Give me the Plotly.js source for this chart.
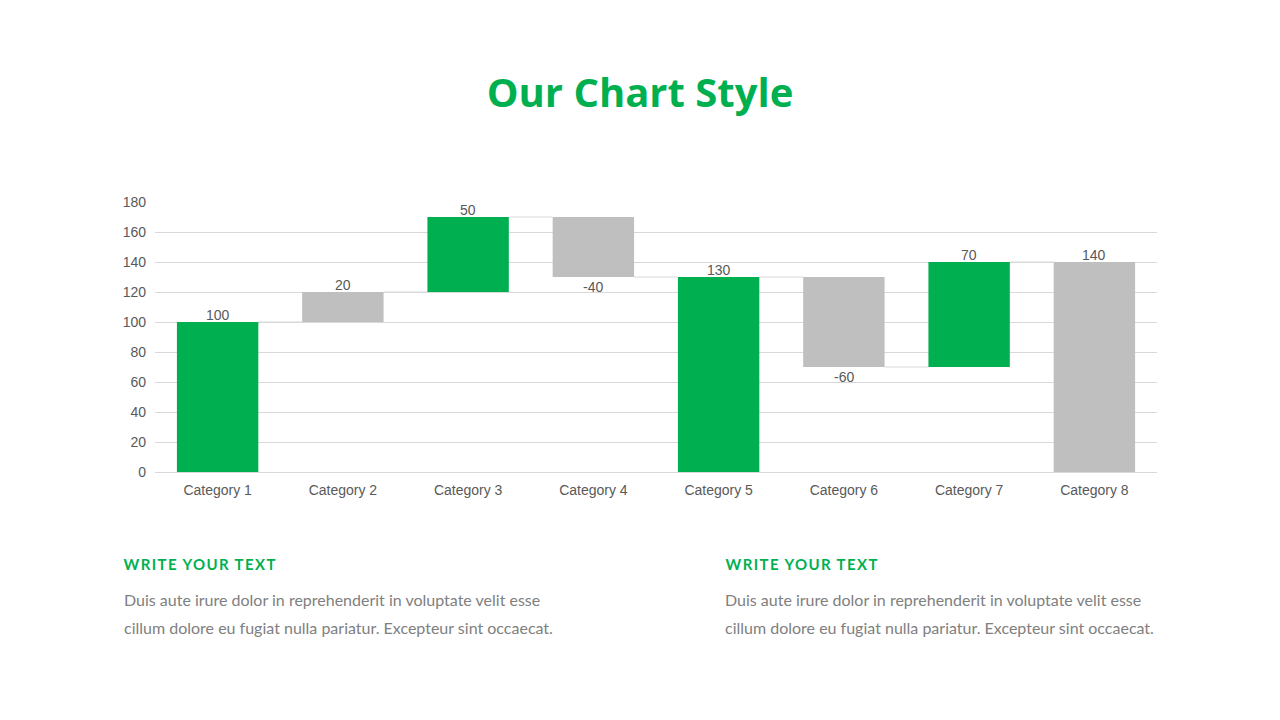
<!DOCTYPE html>
<html>
<head>
<meta charset="utf-8">
<script src="https://cdn.plot.ly/plotly-3.0.1.min.js"></script>
<style>
  html, body { margin: 0; padding: 0; background: #fff; }
  #myDiv { width: 1280px; height: 720px; }
</style>
</head>
<body>
<div id="myDiv"></div>
<script>
var graphDiv = 'myDiv'

var categories = ['Category 1', 'Category 2', 'Category 3', 'Category 4',
                  'Category 5', 'Category 6', 'Category 7', 'Category 8']
// waterfall steps; 'total' resets the running sum to the shown value
var measures = ['absolute', 'relative', 'relative', 'relative',
                'total', 'relative', 'relative', 'total']
var values = [100, 20, 50, -40, 130, -60, 70, 140]
var barColors = ['#00B050', '#BFBFBF', '#00B050', '#BFBFBF',
                 '#00B050', '#BFBFBF', '#00B050', '#BFBFBF']
var yTicks = [0, 20, 40, 60, 80, 100, 120, 140, 160, 180]

var heading = 'WRITE YOUR TEXT'
var paraLines = ['Duis aute irure dolor in reprehenderit in voluptate velit esse',
                 'cillum dolore eu fugiat nulla pariatur. Excepteur sint occaecat.']

var green = '#00B050'
var grey = '#808080'
var axisFont = { family: 'Liberation Sans, Arial, sans-serif', size: 14, color: '#595959' }

// running sum -> base and height of every bar
var bases = []
var heights = []
var running = 0
for (var i = 0; i < values.length; i++) {
  if (measures[i] === 'relative') {
    bases.push(running)
    heights.push(values[i])
    running += values[i]
  } else {
    bases.push(0)
    heights.push(values[i])
    running = values[i]
  }
}

// invisible waterfall only to draw the connector lines
var connectors = {
  type: 'waterfall',
  x: categories,
  y: values,
  measure: measures.map(function (m) { return m === 'total' ? 'absolute' : m }),
  width: 0.65,
  increasing: { marker: { color: 'rgba(0,0,0,0)' } },
  decreasing: { marker: { color: 'rgba(0,0,0,0)' } },
  totals: { marker: { color: 'rgba(0,0,0,0)' } },
  connector: { line: { color: '#D9D9D9', width: 1 } },
  hoverinfo: 'skip',
  showlegend: false
}

var bars = {
  type: 'bar',
  x: categories,
  y: heights,
  base: bases,
  width: 0.65,
  marker: { color: barColors },
  showlegend: false
}

var annotations = []

// value labels: above the top for rises, below the bottom for falls
for (var j = 0; j < values.length; j++) {
  var neg = values[j] < 0
  annotations.push({
    text: String(values[j]),
    x: categories[j],
    y: bases[j] + heights[j],
    xref: 'x', yref: 'y',
    yanchor: neg ? 'top' : 'bottom',
    yshift: neg ? 0 : -3,
    showarrow: false,
    font: axisFont
  })
}

var bodyFont = { family: 'Lato, sans-serif', size: 16, color: grey }
var headFont = { family: 'Lato, sans-serif', size: 15, color: green, weight: 700 }
var columns = [-0.033, 0.567]

columns.forEach(function (cx) {
  // xshift makes up for the letter spacing added after drawing
  annotations.push({ text: heading, xref: 'paper', yref: 'paper', x: cx, y: -0.342,
    xanchor: 'left', yanchor: 'middle', xshift: 10.5, showarrow: false, font: headFont })
  annotations.push({ text: paraLines[0], xref: 'paper', yref: 'paper', x: cx, y: -0.472,
    xanchor: 'left', yanchor: 'middle', showarrow: false, font: bodyFont })
  annotations.push({ text: paraLines[1], xref: 'paper', yref: 'paper', x: cx, y: -0.576,
    xanchor: 'left', yanchor: 'middle', showarrow: false, font: bodyFont })
})

var layout = {
  width: 1280,
  height: 720,
  paper_bgcolor: '#fff',
  plot_bgcolor: '#fff',
  margin: { l: 155, r: 123, t: 202, b: 248 },
  barmode: 'overlay',
  waterfallmode: 'overlay',
  title: {
    text: 'Our Chart Style',
    x: 0.5, xanchor: 'center',
    y: 0.871, yanchor: 'middle',
    font: { family: 'Open Sans, sans-serif', size: 40, color: green, weight: 700 }
  },
  xaxis: {
    type: 'category',
    showgrid: false,
    showline: true,
    linecolor: '#D9D9D9',
    ticks: '',
    ticklabelstandoff: 5,
    tickfont: axisFont
  },
  yaxis: {
    range: [0, 180],
    tickvals: yTicks,
    showgrid: true,
    gridcolor: '#D9D9D9',
    zeroline: false,
    showline: false,
    ticks: '',
    ticklabelstandoff: 8,
    tickfont: axisFont
  },
  annotations: annotations
}

Plotly.newPlot(graphDiv, [connectors, bars], layout, { displayModeBar: false, staticPlot: true })
  .then(function (gd) {
    // spaced-out capitals for the small headings
    gd.querySelectorAll('.annotation-text').forEach(function (t) {
      if (t.textContent === heading) t.style.letterSpacing = '1.4px'
    })
  })
</script>
</body>
</html>
